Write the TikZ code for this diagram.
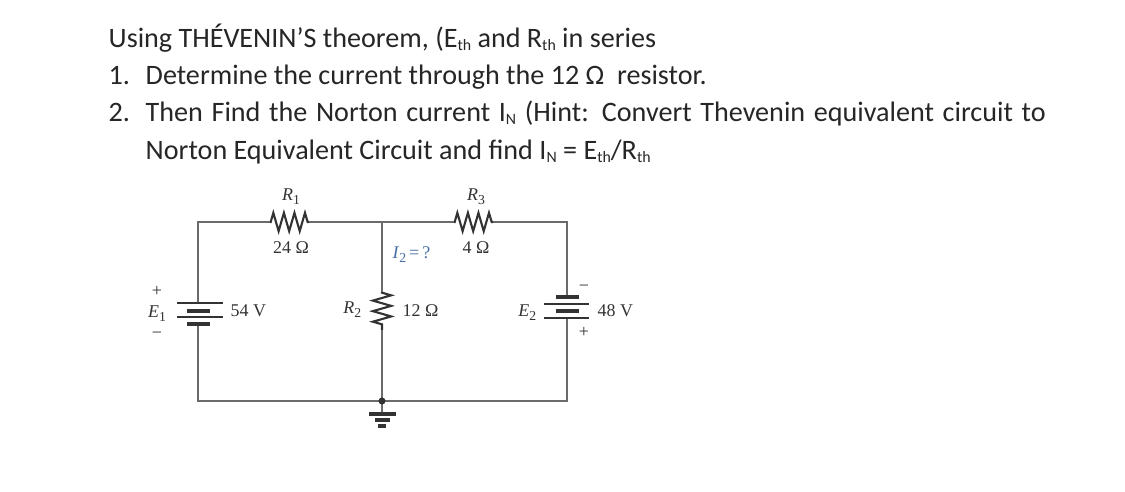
\documentclass[tikz,border=0pt]{standalone}
\usepackage{fontspec}
\setmainfont{Carlito}
\newfontfamily\circuitfont{Liberation Serif}
\usetikzlibrary{decorations.pathmorphing}
\definecolor{wiregray}{gray}{0.42}
\definecolor{inkgray}{gray}{0.2}
\definecolor{currentblue}{RGB}{70,110,165}
\newcommand{\lowtext}[1]{\raisebox{-0.1em}{\fontsize{4.5}{5}\selectfont #1}}
\newcommand{\lowlabel}[1]{\raisebox{-0.22em}{\fontsize{3.9}{5}\selectfont #1}}
\tikzset{
    textline/.style={anchor=base west, inner sep=0pt, text=black!85, font=\fontsize{8}{10}\selectfont},
    label/.style={anchor=base, inner sep=0pt, text=inkgray, font=\circuitfont\fontsize{5.1}{6}\selectfont},
    wire/.style={draw=wiregray, line width=0.45pt},
    resistor/.style={draw=inkgray, line width=0.6pt, decorate, decoration={zigzag, segment length=3pt, amplitude=2.6pt, pre length=0.2pt, post length=0.2pt}},
    platelong/.style={draw=inkgray, line width=0.7pt},
    plateshort/.style={draw=inkgray, line width=1pt},
}
\begin{document}
\begin{tikzpicture}[x=0.01cm, y=-0.01cm]
    \useasboundingbox (0,0) rectangle (1125,492);
    \fill[white] (0,0) rectangle (1125,492);
    % the question above the circuit
    \node[textline] (lineA) at (108,48) {Using THÉVENIN’S theorem, (E\lowtext{th} and R\lowtext{th} in series};
    \node[textline] (numB) at (108,85) {1.};
    \node[textline] (lineB) at (145,85) {Determine the current through the 12 Ω\ \ resistor.};
    \node[textline] (numC) at (108,122) {2.};
    \node[textline] (lineC) at (145,122) {\makebox[900\dimexpr 0.01cm\relax][s]{Then Find the Norton current I\lowtext{N} (Hint: Convert Thevenin equivalent circuit to}};
    \node[textline] (lineD) at (145,160) {Norton Equivalent Circuit and find I\lowtext{N} = E\lowtext{th}/R\lowtext{th}};

    % corners and junctions
    \coordinate (topL) at (198,222);
    \coordinate (topM) at (382,222);
    \coordinate (topR) at (567,222);
    \coordinate (botL) at (198,401);
    \coordinate (botM) at (382,401);
    \coordinate (botR) at (567,401);
    \coordinate (Ra) at (270,222);
    \coordinate (Rb) at (309,222);
    \coordinate (Rc) at (454,222);
    \coordinate (Rd) at (493,222);
    \coordinate (Re) at (382,292);
    \coordinate (Rf) at (382,330);
    \coordinate (Ea) at (198,303);
    \coordinate (Eb) at (198,324);
    \coordinate (Ec) at (567,297);
    \coordinate (Ed) at (567,318);
    \coordinate (gnd) at (382,414);

    \draw[wire] (Ea) -- (topL) -- (Ra);
    \draw[wire] (Rb) -- (topM) -- (Rc);
    \draw[wire] (Rd) -- (topR) -- (Ec);
    \draw[wire] (Eb) -- (botL) -- (botM) -- (botR) -- (Ed);
    \draw[wire] (topM) -- (Re);
    \draw[wire] (Rf) -- (botM) -- (gnd);
    \fill[inkgray] (botM) circle (1pt);

    \draw[resistor] (Ra) -- (Rb);
    \draw[resistor] (Rc) -- (Rd);
    \draw[resistor] (Re) -- (Rf);

    % E1
    \draw[platelong] (177,303) -- (223,303);
    \draw[plateshort] (187,311) -- (210,311);
    \draw[platelong] (177,317) -- (223,317);
    \draw[plateshort] (187,324) -- (210,324);
    % E2
    \draw[plateshort] (556,297) -- (579,297);
    \draw[platelong] (544,304) -- (589,304);
    \draw[plateshort] (556,311) -- (579,311);
    \draw[platelong] (544,318) -- (589,318);
    % ground
    \draw[plateshort] (369,414) -- (396,414);
    \draw[plateshort] (375,420) -- (390,420);
    \draw[plateshort] (378,426) -- (386,426);

    \node[label] (nameA) at (291,201) {\textit{R}\lowlabel{1}};
    \node[label] (valA) at (291,254) {24 Ω};
    \node[label] (nameC) at (476,201) {\textit{R}\lowlabel{3}};
    \node[label] (valC) at (476,254) {4 Ω};
    \node[label, anchor=base east] (nameB) at (362,314) {\textit{R}\lowlabel{2}};
    \node[label, anchor=base west] (valB) at (402,317) {12 Ω};
    \node[label, anchor=base west, text=currentblue] (ask) at (392,259) {\textit{I}\lowlabel{2}\,=\,?};
    \node[label] (nameD) at (157,318) {\textit{E}\lowlabel{1}};
    \node[label, anchor=base west] (valD) at (230,317) {54 V};
    \node[label, anchor=base east] (nameE) at (537,317) {\textit{E}\lowlabel{2}};
    \node[label, anchor=base west] (valE) at (597,317) {48 V};
    \node[label, anchor=center] (plusA) at (157,291) {+};
    \node[label, anchor=center] (minusA) at (157,335) {−};
    \node[label, anchor=center] (minusB) at (584,288) {−};
    \node[label, anchor=center] (plusB) at (584,332) {+};
\end{tikzpicture}
\end{document}
